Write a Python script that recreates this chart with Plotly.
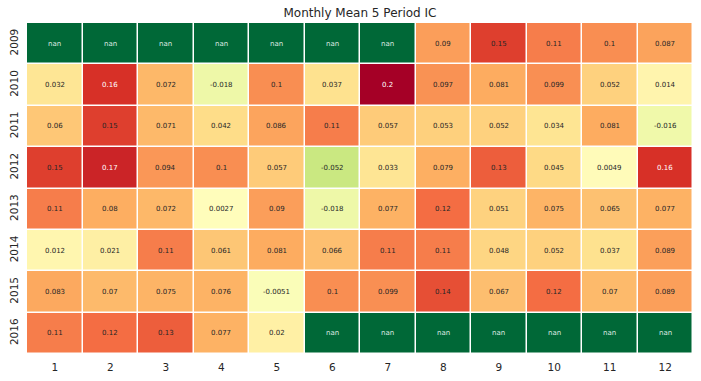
import math
import plotly.graph_objects as go

months = list(range(1, 13))
years = [2009, 2010, 2011, 2012, 2013, 2014, 2015, 2016]
nan = float("nan")
ic_2009 = [nan, nan, nan, nan, nan, nan, nan, 0.09, 0.15, 0.11, 0.1, 0.087]
ic_2010 = [0.032, 0.16, 0.072, -0.018, 0.1, 0.037, 0.2, 0.097, 0.081, 0.099, 0.052, 0.014]
ic_2011 = [0.06, 0.15, 0.071, 0.042, 0.086, 0.11, 0.057, 0.053, 0.052, 0.034, 0.081, -0.016]
ic_2012 = [0.15, 0.17, 0.094, 0.1, 0.057, -0.052, 0.033, 0.079, 0.13, 0.045, 0.0049, 0.16]
ic_2013 = [0.11, 0.08, 0.072, 0.0027, 0.09, -0.018, 0.077, 0.12, 0.051, 0.075, 0.065, 0.077]
ic_2014 = [0.012, 0.021, 0.11, 0.061, 0.081, 0.066, 0.11, 0.11, 0.048, 0.052, 0.037, 0.089]
ic_2015 = [0.083, 0.07, 0.075, 0.076, -0.0051, 0.1, 0.099, 0.14, 0.067, 0.12, 0.07, 0.089]
ic_2016 = [0.11, 0.12, 0.13, 0.077, 0.02, nan, nan, nan, nan, nan, nan, nan]
rows = [ic_2009, ic_2010, ic_2011, ic_2012, ic_2013, ic_2014, ic_2015, ic_2016]

# RdYlGn_r colormap
rdylgn_r = ["#006837", "#1a9850", "#66bd63", "#a6d96a", "#d9ef8b", "#ffffbf",
            "#fee08b", "#fdae61", "#f46d43", "#d73027", "#a50026"]
colorscale = [[i / 10, c] for i, c in enumerate(rdylgn_r)]
vmax = max(abs(v) for r in rows for v in r if not math.isnan(v))
vmin = -vmax

def hex2rgb(h):
    return [int(h[i:i + 2], 16) / 255 for i in (1, 3, 5)]

def cmap(v):
    t = (v - vmin) / (vmax - vmin)
    t = min(max(t, 0), 1) * 10
    i = min(int(t), 9)
    f = t - i
    a, b = hex2rgb(rdylgn_r[i]), hex2rgb(rdylgn_r[i + 1])
    return [a[k] + (b[k] - a[k]) * f for k in range(3)]

def luma(rgb):
    return 0.299 * rgb[0] + 0.587 * rgb[1] + 0.114 * rgb[2]

z = [[vmin if math.isnan(v) else v for v in r] for r in rows]

fig = go.Figure(go.Heatmap(
    z=z, x=months, y=years, colorscale=colorscale, zmin=vmin, zmax=vmax,
    showscale=False, xgap=1.5, ygap=1.5, hoverinfo="skip",
))

annotations = []
for yi, r in enumerate(rows):
    for xi, v in enumerate(r):
        if math.isnan(v):
            txt, col = "nan", "#dfe9e2"
        else:
            txt = format(v, ".2g")
            col = "#262626" if luma(cmap(v)) > 0.408 else "#ffffff"
        annotations.append(dict(x=months[xi], y=years[yi], text=txt, showarrow=False,
                                font=dict(size=7, color=col, family="DejaVu Sans")))

fig.update_layout(
    width=701, height=381,
    margin=dict(l=25, r=8, t=23, b=25),
    paper_bgcolor="white", plot_bgcolor="white",
    font=dict(family="DejaVu Sans", color="#262626"),
    title=dict(text="Monthly Mean 5 Period IC", x=0.5, xref="paper", xanchor="center",
               yref="container", y=1 - 12.5 / 381, yanchor="middle",
               font=dict(size=12, color="#262626")),
    annotations=annotations,
    xaxis=dict(range=[0.5, 12.5], tickmode="array", tickvals=months,
               showgrid=False, zeroline=False, ticks="",
               tickfont=dict(size=10.5, color="#262626"), ticklabelstandoff=5),
    yaxis=dict(range=[2016.5, 2008.5], tickmode="array", tickvals=years,
               showgrid=False, zeroline=False, ticklabelstandoff=6,
               ticks="", tickangle=-90, tickfont=dict(size=10.5, color="#262626")),
)
fig.write_html("out.html", config={"displayModeBar": False},
               post_script="document.body.style.margin='0';")
